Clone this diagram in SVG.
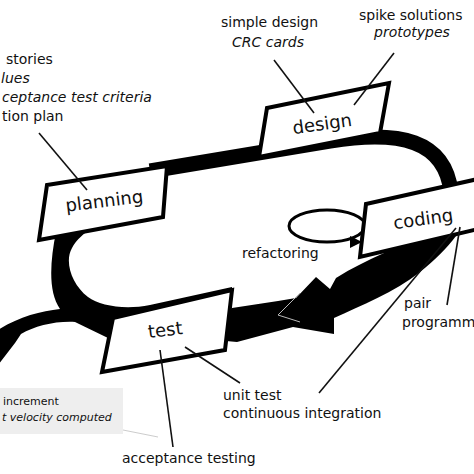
<svg xmlns="http://www.w3.org/2000/svg" width="474" height="474" viewBox="0 0 474 474">
<style>
.box{fill:#fff;stroke:#000;stroke-width:4;stroke-linejoin:miter}
.lbl{font-family:"DejaVu Sans",sans-serif;font-size:18px;fill:#111;text-anchor:middle}
.t{font-family:"DejaVu Sans",sans-serif;font-size:14px;fill:#111}
.i{font-style:italic}
.s{font-size:11px}
.ptr{stroke:#111;stroke-width:1.6;fill:none}
.band{fill:#000}
</style>
<rect width="474" height="474" fill="#fff"/>
<g id="connectors">
  <path d="M150 171 L330 141 C400 130 445 140 451 192" fill="none" stroke="#000" stroke-width="15"/>
  <path class="band" d="M390 240 L384 253 C368 260 352 268 336 278 L330 289 L316 277 L296 298 L278 301 L232 308 L226 312 L226 341 L237 342 L293 327 L334 334 L334 318 C360 306 395 292 420 272 C435 260 447 248 456 236 L470 225 Z"/>
  <polyline points="300,293 278,315 300,322" fill="none" stroke="#bbb" stroke-width="1"/>
  <path class="band" d="M56 232 C50 262 48 292 60 309 C40 311 15 318 -5 332 L-12 378 L15 343 L21 334 C35 326 55 321 75 322 L108 338 L120 330 L232 300 L232 287 L150 305 C125 310 100 306 88 297 C72 285 64 262 72 248 C76 240 82 236 86 232 Z"/>
  <ellipse cx="327" cy="226" rx="38" ry="16" fill="none" stroke="#000" stroke-width="3"/>
  <polygon points="350,236 362,242 350,248" fill="#000"/>
</g>
<g id="node-planning">
  <polygon class="box" points="47,185 167,166 163,217 39,240"/>
  <text class="lbl" x="105" y="207" transform="rotate(-7 105 207)">planning</text>
</g>
<g id="node-design">
  <polygon class="box" points="267,108 389,83 380,133 259,157"/>
  <text class="lbl" x="323" y="130" transform="rotate(-8 323 130)">design</text>
</g>
<g id="node-coding">
  <polygon class="box" points="366,204 478,179 478,229 360,257"/>
  <text class="lbl" x="424" y="225" transform="rotate(-8 424 225)">coding</text>
</g>
<g id="node-test">
  <polygon class="box" points="113,318 232,290 225,350 102,372"/>
  <text class="lbl" x="166" y="336" font-size="19" transform="rotate(-7 166 336)">test</text>
</g>
<g id="pointers">
  <line class="ptr" x1="39" y1="133" x2="87" y2="190"/>
  <line class="ptr" x1="274" y1="60" x2="314" y2="113"/>
  <line class="ptr" x1="394" y1="53" x2="354" y2="105"/>
  <line class="ptr" x1="160" y1="350" x2="173" y2="447"/>
  <line class="ptr" x1="185" y1="347" x2="240" y2="383"/>
  <line class="ptr" x1="447" y1="305" x2="460" y2="227"/>
  <line class="ptr" x1="319" y1="393" x2="456" y2="228"/>
  <line x1="123" y1="430" x2="158" y2="437" stroke="#ccc" stroke-width="1"/>
</g>
<g id="notes">
  <text class="t" x="404" y="308" font-size="13">pair</text>
  <text class="t" x="402" y="327" font-size="13">programm</text>
  <text class="t" x="221" y="27">simple design</text>
  <text class="t i" x="232" y="47">CRC cards</text>
  <text class="t" x="359" y="20">spike solutions</text>
  <text class="t i" x="374" y="37">prototypes</text>
  <text class="t" x="6" y="64">stories</text>
  <text class="t i" x="1" y="83">lues</text>
  <text class="t i" x="2" y="102">ceptance test criteria</text>
  <text class="t" x="2" y="121">tion plan</text>
  <text class="t" x="242" y="258">refactoring</text>
  <text class="t" x="223" y="400">unit test</text>
  <text class="t" x="223" y="418">continuous integration</text>
  <text class="t" x="122" y="463">acceptance testing</text>
  <rect x="0" y="388" width="123" height="46" fill="#eeeeee"/>
  <text class="t s" x="3" y="405">increment</text>
  <text class="t s i" x="2" y="421">t velocity computed</text>
</g>
</svg>
